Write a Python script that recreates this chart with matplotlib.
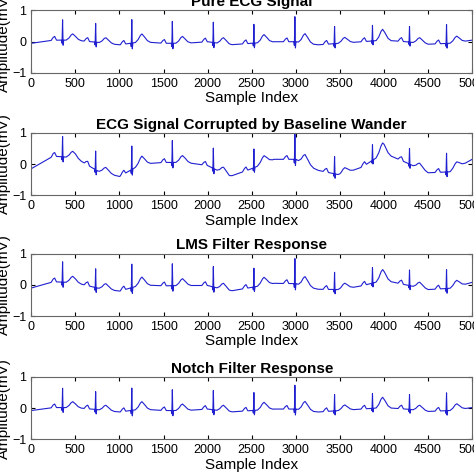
import matplotlib.pyplot as plt
import numpy as np

plt.rcParams["font.family"] = ["Liberation Sans", "DejaVu Sans"]

n_samples = 5000
# R-peak positions and heights
r_pos = [355, 730, 1140, 1600, 2065, 2525, 2990, 3440, 3870, 4290, 4710]
r_amp = [0.65, 0.60, 0.75, 0.70, 0.65, 0.60, 0.80, 0.55, 0.50, 0.50, 0.60]
t_amp = [0.20, 0.18, 0.25, 0.22, 0.20, 0.25, 0.30, 0.18, 0.35, 0.18, 0.20]
# one beat: offsets from the R peak and relative shape
beat_off = [-130, -110, -90, -70, -12, -6, 0, 6, 12, 40, 70, 95, 115, 140, 175, 210]
beat_val = [0.0, 0.08, 0.12, 0.0, 0.0, -0.15, 1.0, -0.25, 0.0, 0.0, 0.3, 0.8, 1.0, 0.7, 0.2, 0.0]
is_t = [0, 0, 0, 0, 0, 0, 0, 0, 0, 0, 1, 1, 1, 1, 1, 0]
# baseline wander knots (every 250 samples)
wander_x = list(range(0, 5001, 250))
wander_y = [-0.1, 0.2, 0.15, -0.2, -0.3, 0.0, 0.1, 0.1, -0.05, -0.3, -0.1,
            0.15, 0.15, -0.1, -0.3, -0.1, 0.3, 0.05, -0.2, -0.2, 0.1]
lms_resid = [-0.05, 0.05, 0.02, -0.08, -0.1, 0.0, 0.02, 0.03, -0.02, -0.1, -0.03,
             0.05, 0.04, -0.04, -0.1, -0.03, 0.1, 0.0, -0.07, -0.06, 0.03]
pure_base = [-0.05, 0.05, 0.05, -0.02, -0.1, 0.0, -0.05, -0.05, 0.0, -0.1, -0.05,
             0.0, 0.0, -0.1, -0.05, 0.0, 0.05, 0.0, -0.08, -0.05, 0.05]

x = np.arange(n_samples)
pure = np.interp(x, wander_x, pure_base)
for p, ra, ta in zip(r_pos, r_amp, t_amp):
    vals = [v * ta if t else (v * ra if abs(o) < 20 else v) for o, v, t in zip(beat_off, beat_val, is_t)]
    pure += np.interp(x - p, beat_off, vals, left=0, right=0)

signals = [
    ("Pure ECG Signal", pure),
    ("ECG Signal Corrupted by Baseline Wander", pure + np.interp(x, wander_x, wander_y)),
    ("LMS Filter Response", pure + np.interp(x, wander_x, lms_resid)),
    ("Notch Filter Response", pure * 0.95 - 0.03),
]

fig = plt.figure(figsize=(4.74, 4.74), dpi=100)
tops = [0.978, 0.72, 0.465, 0.205]
for (title, sig), top in zip(signals, tops):
    ax = fig.add_axes([0.066, top - 0.132, 0.93, 0.132])
    ax.plot(x, sig, color="#2020d0", lw=0.8)
    ax.set_xlim(0, 5000)
    ax.set_ylim(-1, 1)
    ax.set_xticks(range(0, 5001, 500))
    ax.set_yticks([-1, 0, 1])
    ax.tick_params(labelsize=9, direction="in", length=3, top=True, right=True)
    ax.set_title(title, fontsize=11, fontweight="bold", pad=3)
    ax.set_xlabel("Sample Index", fontsize=11, labelpad=1)
    ax.set_ylabel("Amplitude(mV)", fontsize=11, labelpad=1)
    for s in ax.spines.values():
        s.set_color("#666666")

fig.savefig("out.png", dpi=100)
